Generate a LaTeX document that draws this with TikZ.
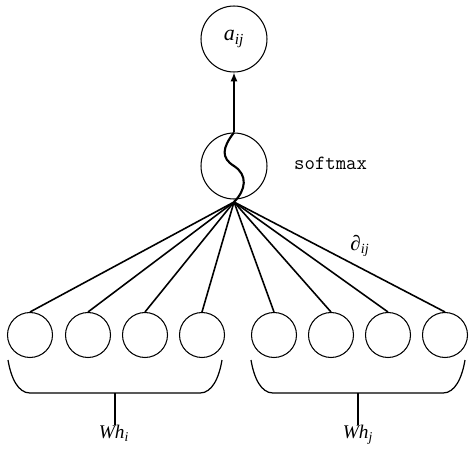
\documentclass[tikz,border=0pt]{standalone}
\usepackage{fontspec}
\setmainfont{Liberation Serif}
\usetikzlibrary{arrows.meta}
\tikzstyle{bigunit} = [circle, draw=black, line width=0.6pt, minimum size=1.32cm, inner sep=0pt]
\tikzstyle{unit} = [circle, draw=black, line width=0.6pt, minimum size=0.9cm, inner sep=0pt]
\tikzstyle{link} = [line width=0.9pt]
\tikzstyle{arrow} = [line width=0.8pt, -{Latex[length=5pt,width=4pt]}]
\tikzstyle{brace} = [line width=0.7pt]
\tikzstyle{lbl} = [font=\fontsize{11}{13}\selectfont\itshape, inner sep=0pt]

\begin{document}
\begin{tikzpicture}[x=0.02cm, y=-0.02cm]
\useasboundingbox (0,0) rectangle (474,453);

% Output and softmax
\node[bigunit, font=\fontsize{12.5}{14}\selectfont\itshape] (aij) at (234,39) {a\textsubscript{ij}};
\node[bigunit] (soft) at (234,166) {};
\node[font=\fontsize{11.5}{13}\selectfont\ttfamily, anchor=west] (softlbl) at (288,163) {softmax};
\coordinate (hub) at (234,202);

% S-curve and arrow
\draw[line width=1.2pt] (soft.north) .. controls (222,148) and (221,158) .. (234,166)
  .. controls (248,175) and (246,190) .. (hub);
\draw[arrow] (soft.north) -- (aij.south);

% Inputs (left group)
\node[unit] (hi1) at (30,335) {};
\node[unit] (hi2) at (88,335) {};
\node[unit] (hi3) at (145,335) {};
\node[unit] (hi4) at (202,335) {};

% Inputs (right group)
\node[unit] (hj1) at (274,335) {};
\node[unit] (hj2) at (331,335) {};
\node[unit] (hj3) at (388,335) {};
\node[unit] (hj4) at (445,335) {};

% Connections
\draw[link] (hub) -- (hi1.north);
\draw[link] (hub) -- (hi2.north);
\draw[link] (hub) -- (hi3.north);
\draw[link] (hub) -- (hi4.north);
\draw[link] (hub) -- (hj1.north);
\draw[link] (hub) -- (hj2.north);
\draw[link] (hub) -- (hj3.north);
\draw[link] (hub) -- (hj4.north);
\node[font=\fontsize{12}{14}\selectfont\itshape] (alpha) at (360,246) {∂\textsubscript{ij}};

% Braces and labels
\node[lbl, anchor=north] (whi) at (114,425) {Wh\textsubscript{i}};
\node[lbl, anchor=north] (whj) at (358,425) {Wh\textsubscript{j}};
\draw[brace] (8,360) .. controls (11,378) and (18,393) .. (30,393) -- (200,393)
  .. controls (212,393) and (219,378) .. (222,360);
\draw[brace] (251,360) .. controls (254,378) and (261,393) .. (273,393) -- (443,393)
  .. controls (455,393) and (462,378) .. (465,360);
\draw[brace] (115,393) -- (115,425);
\draw[brace] (358,393) -- (whj.north);

\end{tikzpicture}
\end{document}
